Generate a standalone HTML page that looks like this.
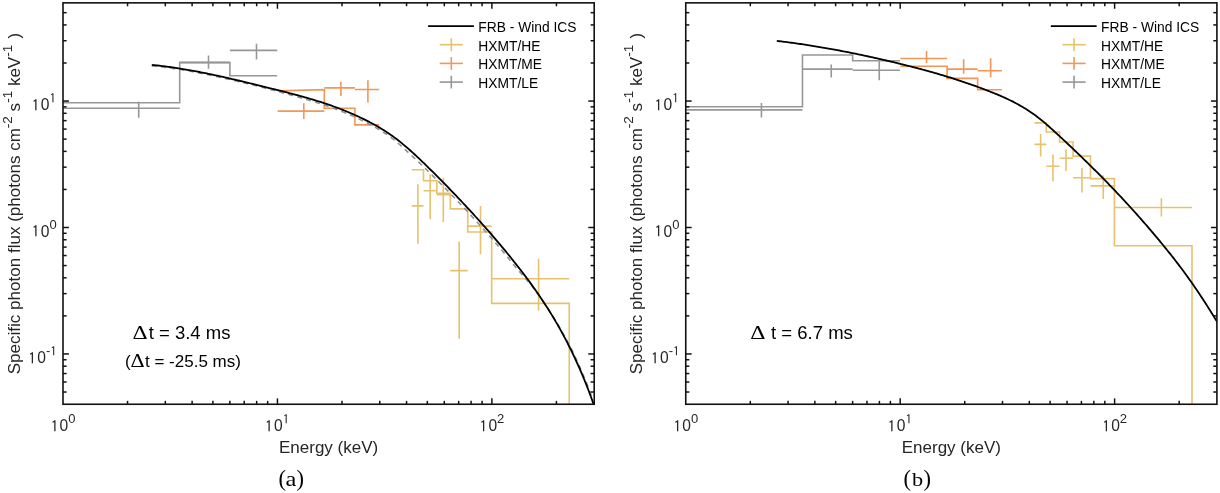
<!DOCTYPE html>
<html><head><meta charset="utf-8"><title>HXMT spectra</title>
<style>html,body{margin:0;padding:0;background:#fff;}svg{display:block;}</style></head>
<body><svg width="1220" height="493" viewBox="0 0 1220 493">
<rect width="1220" height="493" fill="#fff"/>
<clipPath id="clipL"><rect x="63.0" y="2.85" width="531.2" height="401.4"/></clipPath>
<g clip-path="url(#clipL)">
<polyline points="61.00,102.80 179.70,102.80 179.70,62.60 229.90,62.60 229.90,75.80 277.20,75.80" fill="none" stroke="#979797" stroke-width="1.6" stroke-linejoin="miter" />
<line x1="61.00" y1="108.30" x2="179.70" y2="108.30" stroke="#979797" stroke-width="1.6"/>
<line x1="138.70" y1="101.80" x2="138.70" y2="117.70" stroke="#979797" stroke-width="1.6"/>
<line x1="179.70" y1="62.40" x2="229.90" y2="62.40" stroke="#979797" stroke-width="1.6"/>
<line x1="208.50" y1="55.60" x2="208.50" y2="68.70" stroke="#979797" stroke-width="1.6"/>
<line x1="229.90" y1="50.40" x2="277.20" y2="50.40" stroke="#979797" stroke-width="1.6"/>
<line x1="256.50" y1="43.80" x2="256.50" y2="59.40" stroke="#979797" stroke-width="1.6"/>
<polyline points="277.70,90.90 324.30,89.60 324.30,108.30 354.90,108.30 354.90,124.90 379.20,124.90" fill="none" stroke="#F29659" stroke-width="1.6" stroke-linejoin="miter" />
<line x1="277.70" y1="111.10" x2="324.30" y2="111.10" stroke="#F29659" stroke-width="1.6"/>
<line x1="303.80" y1="103.30" x2="303.80" y2="119.00" stroke="#F29659" stroke-width="1.6"/>
<line x1="324.30" y1="87.90" x2="354.90" y2="87.90" stroke="#F29659" stroke-width="1.6"/>
<line x1="340.90" y1="81.70" x2="340.90" y2="96.00" stroke="#F29659" stroke-width="1.6"/>
<line x1="354.90" y1="89.50" x2="379.20" y2="89.50" stroke="#F29659" stroke-width="1.6"/>
<line x1="367.90" y1="80.20" x2="367.90" y2="102.50" stroke="#F29659" stroke-width="1.6"/>
<polyline points="411.80,169.80 423.50,169.80 423.50,180.80 436.80,180.80 436.80,193.30 450.30,193.30 450.30,208.90 467.75,208.90 467.75,232.00 491.65,232.00 491.65,303.40 569.25,303.40 569.25,409.25" fill="none" stroke="#E7C26C" stroke-width="1.6" stroke-linejoin="miter" />
<line x1="411.80" y1="205.90" x2="423.50" y2="205.90" stroke="#E7C26C" stroke-width="1.6"/>
<line x1="417.90" y1="184.30" x2="417.90" y2="243.70" stroke="#E7C26C" stroke-width="1.6"/>
<line x1="423.50" y1="190.70" x2="436.80" y2="190.70" stroke="#E7C26C" stroke-width="1.6"/>
<line x1="430.20" y1="174.20" x2="430.20" y2="219.30" stroke="#E7C26C" stroke-width="1.6"/>
<line x1="436.80" y1="194.60" x2="450.30" y2="194.60" stroke="#E7C26C" stroke-width="1.6"/>
<line x1="443.30" y1="177.70" x2="443.30" y2="221.90" stroke="#E7C26C" stroke-width="1.6"/>
<line x1="450.30" y1="270.60" x2="467.75" y2="270.60" stroke="#E7C26C" stroke-width="1.6"/>
<line x1="459.20" y1="241.40" x2="459.20" y2="338.70" stroke="#E7C26C" stroke-width="1.6"/>
<line x1="467.75" y1="226.10" x2="491.65" y2="226.10" stroke="#E7C26C" stroke-width="1.6"/>
<line x1="480.50" y1="206.10" x2="480.50" y2="254.30" stroke="#E7C26C" stroke-width="1.6"/>
<line x1="491.65" y1="278.70" x2="569.25" y2="278.70" stroke="#E7C26C" stroke-width="1.6"/>
<line x1="538.60" y1="258.70" x2="538.60" y2="310.50" stroke="#E7C26C" stroke-width="1.6"/>
<polyline points="151.80,65.89 153.29,66.04 154.77,66.19 156.26,66.35 157.74,66.52 159.23,66.69 160.71,66.86 162.20,67.04 163.68,67.23 165.17,67.42 166.66,67.61 168.14,67.81 169.63,68.02 171.11,68.23 172.60,68.44 174.08,68.66 175.57,68.89 177.06,69.11 178.54,69.35 180.03,69.58 181.51,69.82 183.00,70.07 184.48,70.32 185.97,70.57 187.45,70.83 188.94,71.09 190.43,71.35 191.91,71.62 193.40,71.89 194.88,72.17 196.37,72.45 197.85,72.73 199.34,73.02 200.83,73.31 202.31,73.60 203.80,73.90 205.28,74.20 206.77,74.50 208.25,74.81 209.74,75.11 211.22,75.42 212.71,75.74 214.20,76.06 215.68,76.38 217.17,76.70 218.65,77.02 220.14,77.35 221.62,77.68 223.11,78.01 224.60,78.34 226.08,78.68 227.57,79.02 229.05,79.36 230.54,79.70 232.02,80.05 233.51,80.39 234.99,80.74 236.48,81.09 237.97,81.44 239.45,81.79 240.94,82.15 242.42,82.50 243.91,82.86 245.39,83.22 246.88,83.58 248.37,83.94 249.85,84.30 251.34,84.66 252.82,85.03 254.31,85.39 255.79,85.76 257.28,86.12 258.76,86.49 260.25,86.86 261.74,87.25 263.22,87.64 264.71,88.04 266.19,88.43 267.68,88.82 269.16,89.21 270.65,89.61 272.14,90.00 273.62,90.39 275.11,90.79 276.59,91.18 278.08,91.58 279.56,91.98 281.05,92.37 282.53,92.77 284.02,93.17 285.51,93.58 286.99,93.98 288.48,94.39 289.96,94.80 291.45,95.21 292.93,95.62 294.42,96.04 295.91,96.46 297.39,96.88 298.88,97.31 300.36,97.74 301.85,98.16 303.33,98.58 304.82,99.01 306.30,99.44 307.79,99.88 309.28,100.32 310.76,100.77 312.25,101.22 313.73,101.67 315.22,102.13 316.70,102.60 318.19,103.07 319.67,103.55 321.16,104.04 322.65,104.53 324.13,105.02 325.62,105.53 327.10,106.04 328.59,106.56 330.07,107.08 331.56,107.61 333.05,108.15 334.53,108.70 336.02,109.26 337.50,109.82 338.99,110.39 340.47,110.97 341.96,111.56 343.44,112.15 344.93,112.76 346.42,113.37 347.90,114.00 349.39,114.63 350.87,115.28 352.36,115.93 353.84,116.59 355.33,117.27 356.82,117.95 358.30,118.64 359.79,119.35 361.27,120.06 362.76,120.79 364.24,121.53 365.73,122.28 367.21,123.04 368.70,123.81 370.19,124.60 371.67,125.39 373.16,126.21 374.64,127.03 376.13,127.87 377.61,128.73 379.10,129.60 380.59,130.49 382.07,131.40 383.56,132.33 385.04,133.28 386.53,134.25 388.01,135.24 389.50,136.25 390.98,137.37 392.47,138.54 393.96,139.75 395.44,140.97 396.93,142.22 398.41,143.50 399.90,144.80 401.38,146.12 402.87,147.47 404.36,148.84 405.84,150.22 407.33,151.63 408.81,153.05 410.30,154.47 411.78,155.80 413.27,157.14 414.75,158.50 416.24,159.88 417.73,161.26 419.21,162.66 420.70,164.07 422.18,165.49 423.67,166.92 425.15,168.36 426.64,169.81 428.13,171.26 429.61,172.72 431.10,174.18 432.58,175.65 434.07,177.12 435.55,178.60 437.04,180.09 438.52,181.58 440.01,183.07 441.50,184.57 442.98,186.07 444.47,187.58 445.95,189.09 447.44,190.61 448.92,192.14 450.41,193.67 451.89,195.20 453.38,196.74 454.87,198.29 456.35,199.84 457.84,201.40 459.32,202.96 460.81,204.53 462.29,206.10 463.78,207.68 465.27,209.27 466.75,210.86 468.24,212.46 469.72,214.06 471.21,215.67 472.69,217.29 474.18,218.91 475.66,220.54 477.15,222.17 478.64,223.81 480.12,225.46 481.61,227.11 483.09,228.76 484.58,230.43 486.06,232.10 487.55,233.77 489.04,235.46 490.52,237.15 492.01,238.85 493.49,240.56 494.98,242.28 496.46,244.01 497.95,245.75 499.43,247.50 500.92,249.25 502.41,251.02 503.89,252.80 505.38,254.58 506.86,256.38 508.35,258.19 509.83,260.01 511.32,261.84 512.81,263.69 514.29,265.54 515.78,267.32 517.26,269.01 518.75,270.73 520.23,272.45 521.72,274.19 523.20,275.89 524.69,277.59 526.18,279.31 527.66,281.05 529.15,282.81 530.63,284.58 532.12,286.39 533.60,288.34 535.09,290.32 536.58,292.33 538.06,294.35 539.55,296.41 541.03,298.49 542.52,300.59 544.00,302.73 545.49,304.90 546.97,307.12 548.46,309.36 549.95,311.64 551.43,313.96 552.92,316.31 554.40,318.69 555.89,321.12 557.37,323.58 558.86,326.09 560.35,328.63 561.83,331.22 563.32,333.85 564.80,336.52 566.29,339.25 567.77,342.03 569.26,344.86 570.74,347.75 572.23,350.70 573.72,353.71 575.20,356.78 576.69,359.97 578.17,363.22 579.66,366.55 581.14,369.94 582.63,373.42 584.12,376.96 585.60,380.59 587.09,384.30 588.57,388.09 590.06,391.98 591.54,395.99" fill="none" stroke="#8e8e8e" stroke-width="1.5" stroke-linejoin="miter" stroke-dasharray="5 4.3" stroke-linecap="butt"/>
<polyline points="151.80,64.89 153.29,65.04 154.77,65.19 156.26,65.35 157.74,65.51 159.23,65.68 160.71,65.86 162.20,66.04 163.68,66.22 165.17,66.41 166.66,66.61 168.14,66.81 169.63,67.01 171.11,67.22 172.60,67.43 174.08,67.65 175.57,67.87 177.06,68.10 178.54,68.33 180.03,68.57 181.51,68.81 183.00,69.05 184.48,69.30 185.97,69.55 187.45,69.81 188.94,70.07 190.43,70.34 191.91,70.60 193.40,70.87 194.88,71.15 196.37,71.43 197.85,71.71 199.34,72.00 200.83,72.29 202.31,72.58 203.80,72.87 205.28,73.17 206.77,73.47 208.25,73.78 209.74,74.09 211.22,74.40 212.71,74.71 214.20,75.03 215.68,75.35 217.17,75.67 218.65,75.99 220.14,76.32 221.62,76.65 223.11,76.98 224.60,77.31 226.08,77.65 227.57,77.98 229.05,78.32 230.54,78.66 232.02,79.01 233.51,79.35 234.99,79.70 236.48,80.05 237.97,80.40 239.45,80.75 240.94,81.11 242.42,81.46 243.91,81.82 245.39,82.17 246.88,82.53 248.37,82.89 249.85,83.25 251.34,83.62 252.82,83.98 254.31,84.34 255.79,84.71 257.28,85.07 258.76,85.44 260.25,85.81 261.74,86.17 263.22,86.54 264.71,86.91 266.19,87.28 267.68,87.65 269.16,88.02 270.65,88.38 272.14,88.75 273.62,89.12 275.11,89.49 276.59,89.86 278.08,90.24 279.56,90.61 281.05,90.98 282.53,91.36 284.02,91.73 285.51,92.11 286.99,92.49 288.48,92.88 289.96,93.26 291.45,93.65 292.93,94.04 294.42,94.43 295.91,94.83 297.39,95.23 298.88,95.63 300.36,96.04 301.85,96.45 303.33,96.86 304.82,97.28 306.30,97.70 307.79,98.13 309.28,98.56 310.76,98.99 312.25,99.43 313.73,99.88 315.22,100.33 316.70,100.79 318.19,101.25 319.67,101.72 321.16,102.20 322.65,102.68 324.13,103.16 325.62,103.66 327.10,104.16 328.59,104.67 330.07,105.18 331.56,105.70 333.05,106.23 334.53,106.77 336.02,107.32 337.50,107.87 338.99,108.43 340.47,109.00 341.96,109.58 343.44,110.16 344.93,110.76 346.42,111.37 347.90,111.98 349.39,112.60 350.87,113.24 352.36,113.88 353.84,114.53 355.33,115.20 356.82,115.87 358.30,116.55 359.79,117.25 361.27,117.95 362.76,118.67 364.24,119.40 365.73,120.14 367.21,120.89 368.70,121.65 370.19,122.43 371.67,123.22 373.16,124.02 374.64,124.83 376.13,125.66 377.61,126.51 379.10,127.38 380.59,128.26 382.07,129.16 383.56,130.08 385.04,131.01 386.53,131.97 388.01,132.95 389.50,133.96 390.98,134.98 392.47,136.03 393.96,137.11 395.44,138.21 396.93,139.33 398.41,140.48 399.90,141.66 401.38,142.86 402.87,144.08 404.36,145.32 405.84,146.58 407.33,147.86 408.81,149.16 410.30,150.47 411.78,151.80 413.27,153.15 414.75,154.52 416.24,155.89 417.73,157.29 419.21,158.69 420.70,160.10 422.18,161.53 423.67,162.96 425.15,164.40 426.64,165.85 428.13,167.31 429.61,168.77 431.10,170.24 432.58,171.72 434.07,173.19 435.55,174.68 437.04,176.16 438.52,177.66 440.01,179.15 441.50,180.66 442.98,182.16 444.47,183.68 445.95,185.20 447.44,186.72 448.92,188.25 450.41,189.78 451.89,191.32 453.38,192.87 454.87,194.42 456.35,195.97 457.84,197.54 459.32,199.10 460.81,200.68 462.29,202.25 463.78,203.84 465.27,205.43 466.75,207.02 468.24,208.63 469.72,210.23 471.21,211.85 472.69,213.47 474.18,215.09 475.66,216.73 477.15,218.36 478.64,220.01 480.12,221.66 481.61,223.32 483.09,224.98 484.58,226.65 486.06,228.33 487.55,230.02 489.04,231.71 490.52,233.41 492.01,235.12 493.49,236.84 494.98,238.57 496.46,240.31 497.95,242.05 499.43,243.81 500.92,245.57 502.41,247.35 503.89,249.13 505.38,250.93 506.86,252.74 508.35,254.55 509.83,256.38 511.32,258.22 512.81,260.08 514.29,261.94 515.78,263.82 517.26,265.71 518.75,267.61 520.23,269.52 521.72,271.45 523.20,273.39 524.69,275.35 526.18,277.32 527.66,279.31 529.15,281.32 530.63,283.35 532.12,285.40 533.60,287.47 535.09,289.56 536.58,291.68 538.06,293.82 539.55,295.99 541.03,298.18 542.52,300.40 544.00,302.65 545.49,304.94 546.97,307.25 548.46,309.59 549.95,311.97 551.43,314.39 552.92,316.84 554.40,319.32 555.89,321.84 557.37,324.41 558.86,327.01 560.35,329.65 561.83,332.34 563.32,335.07 564.80,337.85 566.29,340.67 567.77,343.55 569.26,346.48 570.74,349.47 572.23,352.51 573.72,355.62 575.20,358.79 576.69,362.03 578.17,365.33 579.66,368.70 581.14,372.15 582.63,375.67 584.12,379.27 585.60,382.94 587.09,386.70 588.57,390.55 590.06,394.48 591.54,398.49 593.03,402.60 594.51,406.81 596.00,411.10" fill="none" stroke="#000" stroke-width="1.8" stroke-linejoin="miter" />
</g>
<rect x="63.0" y="2.85" width="531.2" height="401.4" fill="none" stroke="#111111" stroke-width="1.6"/>
<line x1="127.55" y1="404.25" x2="127.55" y2="400.85" stroke="#111111" stroke-width="1.5"/>
<line x1="127.55" y1="2.85" x2="127.55" y2="6.25" stroke="#111111" stroke-width="1.5"/>
<line x1="165.31" y1="404.25" x2="165.31" y2="400.85" stroke="#111111" stroke-width="1.5"/>
<line x1="165.31" y1="2.85" x2="165.31" y2="6.25" stroke="#111111" stroke-width="1.5"/>
<line x1="192.11" y1="404.25" x2="192.11" y2="400.85" stroke="#111111" stroke-width="1.5"/>
<line x1="192.11" y1="2.85" x2="192.11" y2="6.25" stroke="#111111" stroke-width="1.5"/>
<line x1="212.89" y1="404.25" x2="212.89" y2="400.85" stroke="#111111" stroke-width="1.5"/>
<line x1="212.89" y1="2.85" x2="212.89" y2="6.25" stroke="#111111" stroke-width="1.5"/>
<line x1="229.87" y1="404.25" x2="229.87" y2="400.85" stroke="#111111" stroke-width="1.5"/>
<line x1="229.87" y1="2.85" x2="229.87" y2="6.25" stroke="#111111" stroke-width="1.5"/>
<line x1="244.22" y1="404.25" x2="244.22" y2="400.85" stroke="#111111" stroke-width="1.5"/>
<line x1="244.22" y1="2.85" x2="244.22" y2="6.25" stroke="#111111" stroke-width="1.5"/>
<line x1="256.66" y1="404.25" x2="256.66" y2="400.85" stroke="#111111" stroke-width="1.5"/>
<line x1="256.66" y1="2.85" x2="256.66" y2="6.25" stroke="#111111" stroke-width="1.5"/>
<line x1="267.63" y1="404.25" x2="267.63" y2="400.85" stroke="#111111" stroke-width="1.5"/>
<line x1="267.63" y1="2.85" x2="267.63" y2="6.25" stroke="#111111" stroke-width="1.5"/>
<line x1="277.44" y1="404.25" x2="277.44" y2="398.35" stroke="#111111" stroke-width="1.5"/>
<line x1="277.44" y1="2.85" x2="277.44" y2="8.75" stroke="#111111" stroke-width="1.5"/>
<line x1="341.99" y1="404.25" x2="341.99" y2="400.85" stroke="#111111" stroke-width="1.5"/>
<line x1="341.99" y1="2.85" x2="341.99" y2="6.25" stroke="#111111" stroke-width="1.5"/>
<line x1="379.75" y1="404.25" x2="379.75" y2="400.85" stroke="#111111" stroke-width="1.5"/>
<line x1="379.75" y1="2.85" x2="379.75" y2="6.25" stroke="#111111" stroke-width="1.5"/>
<line x1="406.55" y1="404.25" x2="406.55" y2="400.85" stroke="#111111" stroke-width="1.5"/>
<line x1="406.55" y1="2.85" x2="406.55" y2="6.25" stroke="#111111" stroke-width="1.5"/>
<line x1="427.33" y1="404.25" x2="427.33" y2="400.85" stroke="#111111" stroke-width="1.5"/>
<line x1="427.33" y1="2.85" x2="427.33" y2="6.25" stroke="#111111" stroke-width="1.5"/>
<line x1="444.31" y1="404.25" x2="444.31" y2="400.85" stroke="#111111" stroke-width="1.5"/>
<line x1="444.31" y1="2.85" x2="444.31" y2="6.25" stroke="#111111" stroke-width="1.5"/>
<line x1="458.66" y1="404.25" x2="458.66" y2="400.85" stroke="#111111" stroke-width="1.5"/>
<line x1="458.66" y1="2.85" x2="458.66" y2="6.25" stroke="#111111" stroke-width="1.5"/>
<line x1="471.10" y1="404.25" x2="471.10" y2="400.85" stroke="#111111" stroke-width="1.5"/>
<line x1="471.10" y1="2.85" x2="471.10" y2="6.25" stroke="#111111" stroke-width="1.5"/>
<line x1="482.07" y1="404.25" x2="482.07" y2="400.85" stroke="#111111" stroke-width="1.5"/>
<line x1="482.07" y1="2.85" x2="482.07" y2="6.25" stroke="#111111" stroke-width="1.5"/>
<line x1="491.88" y1="404.25" x2="491.88" y2="398.35" stroke="#111111" stroke-width="1.5"/>
<line x1="491.88" y1="2.85" x2="491.88" y2="8.75" stroke="#111111" stroke-width="1.5"/>
<line x1="556.43" y1="404.25" x2="556.43" y2="400.85" stroke="#111111" stroke-width="1.5"/>
<line x1="556.43" y1="2.85" x2="556.43" y2="6.25" stroke="#111111" stroke-width="1.5"/>
<line x1="63.00" y1="392.02" x2="66.60" y2="392.02" stroke="#111111" stroke-width="1.5"/>
<line x1="594.20" y1="392.02" x2="590.60" y2="392.02" stroke="#111111" stroke-width="1.5"/>
<line x1="63.00" y1="382.00" x2="66.60" y2="382.00" stroke="#111111" stroke-width="1.5"/>
<line x1="594.20" y1="382.00" x2="590.60" y2="382.00" stroke="#111111" stroke-width="1.5"/>
<line x1="63.00" y1="373.54" x2="66.60" y2="373.54" stroke="#111111" stroke-width="1.5"/>
<line x1="594.20" y1="373.54" x2="590.60" y2="373.54" stroke="#111111" stroke-width="1.5"/>
<line x1="63.00" y1="366.20" x2="66.60" y2="366.20" stroke="#111111" stroke-width="1.5"/>
<line x1="594.20" y1="366.20" x2="590.60" y2="366.20" stroke="#111111" stroke-width="1.5"/>
<line x1="63.00" y1="359.74" x2="66.60" y2="359.74" stroke="#111111" stroke-width="1.5"/>
<line x1="594.20" y1="359.74" x2="590.60" y2="359.74" stroke="#111111" stroke-width="1.5"/>
<line x1="63.00" y1="353.95" x2="68.90" y2="353.95" stroke="#111111" stroke-width="1.5"/>
<line x1="594.20" y1="353.95" x2="588.30" y2="353.95" stroke="#111111" stroke-width="1.5"/>
<line x1="63.00" y1="315.88" x2="66.60" y2="315.88" stroke="#111111" stroke-width="1.5"/>
<line x1="594.20" y1="315.88" x2="590.60" y2="315.88" stroke="#111111" stroke-width="1.5"/>
<line x1="63.00" y1="293.62" x2="66.60" y2="293.62" stroke="#111111" stroke-width="1.5"/>
<line x1="594.20" y1="293.62" x2="590.60" y2="293.62" stroke="#111111" stroke-width="1.5"/>
<line x1="63.00" y1="277.82" x2="66.60" y2="277.82" stroke="#111111" stroke-width="1.5"/>
<line x1="594.20" y1="277.82" x2="590.60" y2="277.82" stroke="#111111" stroke-width="1.5"/>
<line x1="63.00" y1="265.57" x2="66.60" y2="265.57" stroke="#111111" stroke-width="1.5"/>
<line x1="594.20" y1="265.57" x2="590.60" y2="265.57" stroke="#111111" stroke-width="1.5"/>
<line x1="63.00" y1="255.55" x2="66.60" y2="255.55" stroke="#111111" stroke-width="1.5"/>
<line x1="594.20" y1="255.55" x2="590.60" y2="255.55" stroke="#111111" stroke-width="1.5"/>
<line x1="63.00" y1="247.09" x2="66.60" y2="247.09" stroke="#111111" stroke-width="1.5"/>
<line x1="594.20" y1="247.09" x2="590.60" y2="247.09" stroke="#111111" stroke-width="1.5"/>
<line x1="63.00" y1="239.75" x2="66.60" y2="239.75" stroke="#111111" stroke-width="1.5"/>
<line x1="594.20" y1="239.75" x2="590.60" y2="239.75" stroke="#111111" stroke-width="1.5"/>
<line x1="63.00" y1="233.29" x2="66.60" y2="233.29" stroke="#111111" stroke-width="1.5"/>
<line x1="594.20" y1="233.29" x2="590.60" y2="233.29" stroke="#111111" stroke-width="1.5"/>
<line x1="63.00" y1="227.50" x2="68.90" y2="227.50" stroke="#111111" stroke-width="1.5"/>
<line x1="594.20" y1="227.50" x2="588.30" y2="227.50" stroke="#111111" stroke-width="1.5"/>
<line x1="63.00" y1="189.43" x2="66.60" y2="189.43" stroke="#111111" stroke-width="1.5"/>
<line x1="594.20" y1="189.43" x2="590.60" y2="189.43" stroke="#111111" stroke-width="1.5"/>
<line x1="63.00" y1="167.17" x2="66.60" y2="167.17" stroke="#111111" stroke-width="1.5"/>
<line x1="594.20" y1="167.17" x2="590.60" y2="167.17" stroke="#111111" stroke-width="1.5"/>
<line x1="63.00" y1="151.37" x2="66.60" y2="151.37" stroke="#111111" stroke-width="1.5"/>
<line x1="594.20" y1="151.37" x2="590.60" y2="151.37" stroke="#111111" stroke-width="1.5"/>
<line x1="63.00" y1="139.12" x2="66.60" y2="139.12" stroke="#111111" stroke-width="1.5"/>
<line x1="594.20" y1="139.12" x2="590.60" y2="139.12" stroke="#111111" stroke-width="1.5"/>
<line x1="63.00" y1="129.10" x2="66.60" y2="129.10" stroke="#111111" stroke-width="1.5"/>
<line x1="594.20" y1="129.10" x2="590.60" y2="129.10" stroke="#111111" stroke-width="1.5"/>
<line x1="63.00" y1="120.64" x2="66.60" y2="120.64" stroke="#111111" stroke-width="1.5"/>
<line x1="594.20" y1="120.64" x2="590.60" y2="120.64" stroke="#111111" stroke-width="1.5"/>
<line x1="63.00" y1="113.30" x2="66.60" y2="113.30" stroke="#111111" stroke-width="1.5"/>
<line x1="594.20" y1="113.30" x2="590.60" y2="113.30" stroke="#111111" stroke-width="1.5"/>
<line x1="63.00" y1="106.84" x2="66.60" y2="106.84" stroke="#111111" stroke-width="1.5"/>
<line x1="594.20" y1="106.84" x2="590.60" y2="106.84" stroke="#111111" stroke-width="1.5"/>
<line x1="63.00" y1="101.05" x2="68.90" y2="101.05" stroke="#111111" stroke-width="1.5"/>
<line x1="594.20" y1="101.05" x2="588.30" y2="101.05" stroke="#111111" stroke-width="1.5"/>
<line x1="63.00" y1="62.98" x2="66.60" y2="62.98" stroke="#111111" stroke-width="1.5"/>
<line x1="594.20" y1="62.98" x2="590.60" y2="62.98" stroke="#111111" stroke-width="1.5"/>
<line x1="63.00" y1="40.72" x2="66.60" y2="40.72" stroke="#111111" stroke-width="1.5"/>
<line x1="594.20" y1="40.72" x2="590.60" y2="40.72" stroke="#111111" stroke-width="1.5"/>
<line x1="63.00" y1="24.92" x2="66.60" y2="24.92" stroke="#111111" stroke-width="1.5"/>
<line x1="594.20" y1="24.92" x2="590.60" y2="24.92" stroke="#111111" stroke-width="1.5"/>
<line x1="63.00" y1="12.67" x2="66.60" y2="12.67" stroke="#111111" stroke-width="1.5"/>
<line x1="594.20" y1="12.67" x2="590.60" y2="12.67" stroke="#111111" stroke-width="1.5"/>
<text font-family="Liberation Sans, sans-serif" font-size="15.6" fill="#262626"><tspan x="50.66" y="431.78" font-family="IPAGothic, Liberation Sans, sans-serif">1</tspan><tspan x="59.53" y="431.00">0</tspan><tspan x="68.21" y="423.40" font-size="13.0">0</tspan></text>
<text font-family="Liberation Sans, sans-serif" font-size="15.6" fill="#262626"><tspan x="265.10" y="431.78" font-family="IPAGothic, Liberation Sans, sans-serif">1</tspan><tspan x="273.97" y="431.00">0</tspan><tspan x="282.65" y="424.06" font-size="13.0" font-family="IPAGothic, Liberation Sans, sans-serif">1</tspan></text>
<text font-family="Liberation Sans, sans-serif" font-size="15.6" fill="#262626"><tspan x="479.54" y="431.78" font-family="IPAGothic, Liberation Sans, sans-serif">1</tspan><tspan x="488.41" y="431.00">0</tspan><tspan x="497.09" y="423.40" font-size="13.0">2</tspan></text>
<text font-family="Liberation Sans, sans-serif" font-size="15.6" fill="#262626"><tspan x="31.66" y="110.83" font-family="IPAGothic, Liberation Sans, sans-serif">1</tspan><tspan x="40.83" y="110.05">0</tspan><tspan x="49.51" y="102.91" font-size="13.0" font-family="IPAGothic, Liberation Sans, sans-serif">1</tspan></text>
<text font-family="Liberation Sans, sans-serif" font-size="15.6" fill="#262626"><tspan x="31.66" y="237.28" font-family="IPAGothic, Liberation Sans, sans-serif">1</tspan><tspan x="40.83" y="236.50">0</tspan><tspan x="49.51" y="228.70" font-size="13.0">0</tspan></text>
<text font-family="Liberation Sans, sans-serif" font-size="15.6" fill="#262626"><tspan x="28.16" y="363.73" font-family="IPAGothic, Liberation Sans, sans-serif">1</tspan><tspan x="37.33" y="362.95">0</tspan><tspan x="46.01" y="355.15" font-size="13.0">-</tspan><tspan x="50.34" y="355.81" font-size="13.0" font-family="IPAGothic, Liberation Sans, sans-serif">1</tspan></text>
<line x1="428.10" y1="26.10" x2="473.90" y2="26.10" stroke="#000" stroke-width="1.8"/>
<line x1="439.70" y1="44.70" x2="462.90" y2="44.70" stroke="#E7C26C" stroke-width="1.6"/>
<line x1="451.30" y1="38.30" x2="451.30" y2="51.10" stroke="#E7C26C" stroke-width="1.6"/>
<text x="478.30" y="50.60" font-family="Liberation Sans, sans-serif" font-size="13.8" fill="#000">HXMT/HE</text>
<line x1="439.70" y1="63.40" x2="462.90" y2="63.40" stroke="#F29659" stroke-width="1.6"/>
<line x1="451.30" y1="57.00" x2="451.30" y2="69.80" stroke="#F29659" stroke-width="1.6"/>
<text x="478.30" y="69.30" font-family="Liberation Sans, sans-serif" font-size="13.8" fill="#000">HXMT/ME</text>
<line x1="439.70" y1="82.10" x2="462.90" y2="82.10" stroke="#979797" stroke-width="1.6"/>
<line x1="451.30" y1="75.70" x2="451.30" y2="88.50" stroke="#979797" stroke-width="1.6"/>
<text x="478.30" y="88.00" font-family="Liberation Sans, sans-serif" font-size="13.8" fill="#000">HXMT/LE</text>
<text x="478.30" y="32.3" font-family="Liberation Sans, sans-serif" font-size="13.8" fill="#000">FRB - Wind ICS</text>
<text x="328.60" y="453.1" text-anchor="middle" font-family="Liberation Sans, sans-serif" font-size="17" fill="#262626">Energy (keV)</text>
<text transform="translate(20.00,374.27) rotate(-90)" font-family="Liberation Sans, sans-serif" font-size="17.05" fill="#262626">Specific photon flux (photons cm<tspan dy="-8.3" font-size="13.5">-2</tspan><tspan dy="8.3"> s</tspan><tspan dy="-8.3" font-size="13.5">-1</tspan><tspan dy="8.3"> keV</tspan><tspan dy="-8.3" font-size="13.5">-1</tspan><tspan dy="8.3"> </tspan><tspan dx="1.6">)</tspan></text>
<clipPath id="clipR"><rect x="685.75" y="2.85" width="531.1500000000001" height="401.4"/></clipPath>
<g clip-path="url(#clipR)">
<polyline points="683.75,106.80 802.45,106.80 802.45,55.00 852.65,55.00 852.65,60.80 899.95,60.80" fill="none" stroke="#979797" stroke-width="1.6" stroke-linejoin="miter" />
<line x1="683.75" y1="109.90" x2="802.45" y2="109.90" stroke="#979797" stroke-width="1.6"/>
<line x1="761.45" y1="103.00" x2="761.45" y2="117.50" stroke="#979797" stroke-width="1.6"/>
<line x1="802.45" y1="69.10" x2="852.65" y2="69.10" stroke="#979797" stroke-width="1.6"/>
<line x1="831.25" y1="64.60" x2="831.25" y2="77.60" stroke="#979797" stroke-width="1.6"/>
<line x1="852.65" y1="70.20" x2="899.95" y2="70.20" stroke="#979797" stroke-width="1.6"/>
<line x1="879.25" y1="61.30" x2="879.25" y2="80.20" stroke="#979797" stroke-width="1.6"/>
<polyline points="900.45,66.30 947.05,66.30 947.05,78.40 977.65,78.40 977.65,89.70 1001.95,89.70" fill="none" stroke="#F29659" stroke-width="1.6" stroke-linejoin="miter" />
<line x1="900.45" y1="58.50" x2="947.05" y2="58.50" stroke="#F29659" stroke-width="1.6"/>
<line x1="926.55" y1="51.10" x2="926.55" y2="63.00" stroke="#F29659" stroke-width="1.6"/>
<line x1="947.05" y1="69.10" x2="977.65" y2="69.10" stroke="#F29659" stroke-width="1.6"/>
<line x1="963.65" y1="59.20" x2="963.65" y2="73.70" stroke="#F29659" stroke-width="1.6"/>
<line x1="977.65" y1="70.80" x2="1001.95" y2="70.80" stroke="#F29659" stroke-width="1.6"/>
<line x1="990.65" y1="58.20" x2="990.65" y2="77.20" stroke="#F29659" stroke-width="1.6"/>
<polyline points="1034.55,122.90 1046.25,122.90 1046.25,132.00 1059.55,132.00 1059.55,142.00 1073.05,142.00 1073.05,156.10 1090.50,156.10 1090.50,178.60 1114.40,178.60 1114.40,245.70 1192.00,245.70 1192.00,409.25" fill="none" stroke="#E7C26C" stroke-width="1.6" stroke-linejoin="miter" />
<line x1="1034.55" y1="144.40" x2="1046.25" y2="144.40" stroke="#E7C26C" stroke-width="1.6"/>
<line x1="1040.65" y1="134.10" x2="1040.65" y2="156.40" stroke="#E7C26C" stroke-width="1.6"/>
<line x1="1046.25" y1="166.20" x2="1059.55" y2="166.20" stroke="#E7C26C" stroke-width="1.6"/>
<line x1="1052.95" y1="154.60" x2="1052.95" y2="181.40" stroke="#E7C26C" stroke-width="1.6"/>
<line x1="1059.55" y1="158.20" x2="1073.05" y2="158.20" stroke="#E7C26C" stroke-width="1.6"/>
<line x1="1066.05" y1="149.20" x2="1066.05" y2="171.00" stroke="#E7C26C" stroke-width="1.6"/>
<line x1="1073.05" y1="177.70" x2="1090.50" y2="177.70" stroke="#E7C26C" stroke-width="1.6"/>
<line x1="1081.95" y1="167.70" x2="1081.95" y2="192.60" stroke="#E7C26C" stroke-width="1.6"/>
<line x1="1090.50" y1="185.90" x2="1114.40" y2="185.90" stroke="#E7C26C" stroke-width="1.6"/>
<line x1="1103.25" y1="175.20" x2="1103.25" y2="198.90" stroke="#E7C26C" stroke-width="1.6"/>
<line x1="1114.40" y1="207.50" x2="1192.00" y2="207.50" stroke="#E7C26C" stroke-width="1.6"/>
<line x1="1161.35" y1="198.30" x2="1161.35" y2="216.50" stroke="#E7C26C" stroke-width="1.6"/>
<polyline points="776.80,40.90 778.28,41.07 779.76,41.25 781.24,41.42 782.72,41.61 784.19,41.79 785.67,41.98 787.15,42.17 788.63,42.36 790.11,42.56 791.59,42.76 793.07,42.96 794.55,43.16 796.03,43.37 797.51,43.58 798.98,43.79 800.46,44.00 801.94,44.22 803.42,44.44 804.90,44.66 806.38,44.89 807.86,45.12 809.34,45.35 810.82,45.58 812.29,45.82 813.77,46.05 815.25,46.29 816.73,46.54 818.21,46.78 819.69,47.03 821.17,47.28 822.65,47.53 824.13,47.79 825.60,48.05 827.08,48.31 828.56,48.57 830.04,48.83 831.52,49.10 833.00,49.37 834.48,49.64 835.96,49.92 837.44,50.19 838.92,50.47 840.39,50.75 841.87,51.04 843.35,51.32 844.83,51.61 846.31,51.90 847.79,52.19 849.27,52.48 850.75,52.78 852.23,53.08 853.70,53.38 855.18,53.68 856.66,53.99 858.14,54.29 859.62,54.60 861.10,54.91 862.58,55.23 864.06,55.54 865.54,55.86 867.01,56.18 868.49,56.50 869.97,56.82 871.45,57.15 872.93,57.47 874.41,57.80 875.89,58.13 877.37,58.47 878.85,58.80 880.33,59.14 881.80,59.47 883.28,59.81 884.76,60.16 886.24,60.50 887.72,60.84 889.20,61.19 890.68,61.54 892.16,61.89 893.64,62.24 895.11,62.60 896.59,62.95 898.07,63.31 899.55,63.67 901.03,64.03 902.51,64.40 903.99,64.77 905.47,65.13 906.95,65.51 908.42,65.88 909.90,66.25 911.38,66.63 912.86,67.01 914.34,67.40 915.82,67.78 917.30,68.17 918.78,68.56 920.26,68.96 921.74,69.35 923.21,69.75 924.69,70.15 926.17,70.56 927.65,70.97 929.13,71.38 930.61,71.79 932.09,72.21 933.57,72.63 935.05,73.06 936.52,73.48 938.00,73.91 939.48,74.35 940.96,74.78 942.44,75.22 943.92,75.67 945.40,76.12 946.88,76.57 948.36,77.02 949.83,77.48 951.31,77.95 952.79,78.41 954.27,78.88 955.75,79.36 957.23,79.83 958.71,80.32 960.19,80.80 961.67,81.29 963.15,81.79 964.62,82.29 966.10,82.79 967.58,83.30 969.06,83.81 970.54,84.33 972.02,84.85 973.50,85.37 974.98,85.90 976.46,86.44 977.93,86.98 979.41,87.52 980.89,88.07 982.37,88.62 983.85,89.18 985.33,89.75 986.81,90.32 988.29,90.89 989.77,91.47 991.24,92.05 992.72,92.64 994.20,93.24 995.68,93.84 997.16,94.45 998.64,95.07 1000.12,95.70 1001.60,96.34 1003.08,96.99 1004.56,97.66 1006.03,98.33 1007.51,99.02 1008.99,99.72 1010.47,100.44 1011.95,101.17 1013.43,101.92 1014.91,102.68 1016.39,103.47 1017.87,104.27 1019.34,105.09 1020.82,105.93 1022.30,106.79 1023.78,107.67 1025.26,108.58 1026.74,109.50 1028.22,110.46 1029.70,111.43 1031.18,112.43 1032.65,113.46 1034.13,114.51 1035.61,115.59 1037.09,116.70 1038.57,117.84 1040.05,119.00 1041.53,120.20 1043.01,121.42 1044.49,122.67 1045.97,123.94 1047.44,125.23 1048.92,126.54 1050.40,127.86 1051.88,129.19 1053.36,130.53 1054.84,131.88 1056.32,133.23 1057.80,134.59 1059.28,135.96 1060.75,137.33 1062.23,138.70 1063.71,140.08 1065.19,141.46 1066.67,142.84 1068.15,144.23 1069.63,145.63 1071.11,147.02 1072.59,148.43 1074.06,149.83 1075.54,151.24 1077.02,152.65 1078.50,154.07 1079.98,155.50 1081.46,156.92 1082.94,158.36 1084.42,159.79 1085.90,161.23 1087.38,162.68 1088.85,164.13 1090.33,165.59 1091.81,167.05 1093.29,168.52 1094.77,169.99 1096.25,171.47 1097.73,172.95 1099.21,174.44 1100.69,175.93 1102.16,177.43 1103.64,178.94 1105.12,180.45 1106.60,181.97 1108.08,183.49 1109.56,185.02 1111.04,186.56 1112.52,188.10 1114.00,189.65 1115.47,191.20 1116.95,192.76 1118.43,194.33 1119.91,195.90 1121.39,197.48 1122.87,199.07 1124.35,200.67 1125.83,202.27 1127.31,203.88 1128.79,205.49 1130.26,207.11 1131.74,208.74 1133.22,210.38 1134.70,212.02 1136.18,213.68 1137.66,215.34 1139.14,217.00 1140.62,218.68 1142.10,220.36 1143.57,222.05 1145.05,223.75 1146.53,225.45 1148.01,227.17 1149.49,228.89 1150.97,230.62 1152.45,232.36 1153.93,234.11 1155.41,235.86 1156.88,237.63 1158.36,239.40 1159.84,241.18 1161.32,242.97 1162.80,244.77 1164.28,246.58 1165.76,248.40 1167.24,250.23 1168.72,252.07 1170.20,253.93 1171.67,255.80 1173.15,257.68 1174.63,259.57 1176.11,261.48 1177.59,263.41 1179.07,265.35 1180.55,267.30 1182.03,269.28 1183.51,271.27 1184.98,273.28 1186.46,275.31 1187.94,277.35 1189.42,279.42 1190.90,281.51 1192.38,283.62 1193.86,285.75 1195.34,287.90 1196.82,290.08 1198.29,292.27 1199.77,294.48 1201.25,296.72 1202.73,298.97 1204.21,301.25 1205.69,303.54 1207.17,305.86 1208.65,308.19 1210.13,310.54 1211.61,312.91 1213.08,315.30 1214.56,317.71 1216.04,320.13 1217.52,322.57 1219.00,325.04" fill="none" stroke="#000" stroke-width="1.8" stroke-linejoin="miter" />
</g>
<rect x="685.75" y="2.85" width="531.1500000000001" height="401.4" fill="none" stroke="#111111" stroke-width="1.6"/>
<line x1="750.30" y1="404.25" x2="750.30" y2="400.85" stroke="#111111" stroke-width="1.5"/>
<line x1="750.30" y1="2.85" x2="750.30" y2="6.25" stroke="#111111" stroke-width="1.5"/>
<line x1="788.06" y1="404.25" x2="788.06" y2="400.85" stroke="#111111" stroke-width="1.5"/>
<line x1="788.06" y1="2.85" x2="788.06" y2="6.25" stroke="#111111" stroke-width="1.5"/>
<line x1="814.86" y1="404.25" x2="814.86" y2="400.85" stroke="#111111" stroke-width="1.5"/>
<line x1="814.86" y1="2.85" x2="814.86" y2="6.25" stroke="#111111" stroke-width="1.5"/>
<line x1="835.64" y1="404.25" x2="835.64" y2="400.85" stroke="#111111" stroke-width="1.5"/>
<line x1="835.64" y1="2.85" x2="835.64" y2="6.25" stroke="#111111" stroke-width="1.5"/>
<line x1="852.62" y1="404.25" x2="852.62" y2="400.85" stroke="#111111" stroke-width="1.5"/>
<line x1="852.62" y1="2.85" x2="852.62" y2="6.25" stroke="#111111" stroke-width="1.5"/>
<line x1="866.97" y1="404.25" x2="866.97" y2="400.85" stroke="#111111" stroke-width="1.5"/>
<line x1="866.97" y1="2.85" x2="866.97" y2="6.25" stroke="#111111" stroke-width="1.5"/>
<line x1="879.41" y1="404.25" x2="879.41" y2="400.85" stroke="#111111" stroke-width="1.5"/>
<line x1="879.41" y1="2.85" x2="879.41" y2="6.25" stroke="#111111" stroke-width="1.5"/>
<line x1="890.38" y1="404.25" x2="890.38" y2="400.85" stroke="#111111" stroke-width="1.5"/>
<line x1="890.38" y1="2.85" x2="890.38" y2="6.25" stroke="#111111" stroke-width="1.5"/>
<line x1="900.19" y1="404.25" x2="900.19" y2="398.35" stroke="#111111" stroke-width="1.5"/>
<line x1="900.19" y1="2.85" x2="900.19" y2="8.75" stroke="#111111" stroke-width="1.5"/>
<line x1="964.74" y1="404.25" x2="964.74" y2="400.85" stroke="#111111" stroke-width="1.5"/>
<line x1="964.74" y1="2.85" x2="964.74" y2="6.25" stroke="#111111" stroke-width="1.5"/>
<line x1="1002.50" y1="404.25" x2="1002.50" y2="400.85" stroke="#111111" stroke-width="1.5"/>
<line x1="1002.50" y1="2.85" x2="1002.50" y2="6.25" stroke="#111111" stroke-width="1.5"/>
<line x1="1029.30" y1="404.25" x2="1029.30" y2="400.85" stroke="#111111" stroke-width="1.5"/>
<line x1="1029.30" y1="2.85" x2="1029.30" y2="6.25" stroke="#111111" stroke-width="1.5"/>
<line x1="1050.08" y1="404.25" x2="1050.08" y2="400.85" stroke="#111111" stroke-width="1.5"/>
<line x1="1050.08" y1="2.85" x2="1050.08" y2="6.25" stroke="#111111" stroke-width="1.5"/>
<line x1="1067.06" y1="404.25" x2="1067.06" y2="400.85" stroke="#111111" stroke-width="1.5"/>
<line x1="1067.06" y1="2.85" x2="1067.06" y2="6.25" stroke="#111111" stroke-width="1.5"/>
<line x1="1081.41" y1="404.25" x2="1081.41" y2="400.85" stroke="#111111" stroke-width="1.5"/>
<line x1="1081.41" y1="2.85" x2="1081.41" y2="6.25" stroke="#111111" stroke-width="1.5"/>
<line x1="1093.85" y1="404.25" x2="1093.85" y2="400.85" stroke="#111111" stroke-width="1.5"/>
<line x1="1093.85" y1="2.85" x2="1093.85" y2="6.25" stroke="#111111" stroke-width="1.5"/>
<line x1="1104.82" y1="404.25" x2="1104.82" y2="400.85" stroke="#111111" stroke-width="1.5"/>
<line x1="1104.82" y1="2.85" x2="1104.82" y2="6.25" stroke="#111111" stroke-width="1.5"/>
<line x1="1114.63" y1="404.25" x2="1114.63" y2="398.35" stroke="#111111" stroke-width="1.5"/>
<line x1="1114.63" y1="2.85" x2="1114.63" y2="8.75" stroke="#111111" stroke-width="1.5"/>
<line x1="1179.18" y1="404.25" x2="1179.18" y2="400.85" stroke="#111111" stroke-width="1.5"/>
<line x1="1179.18" y1="2.85" x2="1179.18" y2="6.25" stroke="#111111" stroke-width="1.5"/>
<line x1="685.75" y1="392.02" x2="689.35" y2="392.02" stroke="#111111" stroke-width="1.5"/>
<line x1="1216.90" y1="392.02" x2="1213.30" y2="392.02" stroke="#111111" stroke-width="1.5"/>
<line x1="685.75" y1="382.00" x2="689.35" y2="382.00" stroke="#111111" stroke-width="1.5"/>
<line x1="1216.90" y1="382.00" x2="1213.30" y2="382.00" stroke="#111111" stroke-width="1.5"/>
<line x1="685.75" y1="373.54" x2="689.35" y2="373.54" stroke="#111111" stroke-width="1.5"/>
<line x1="1216.90" y1="373.54" x2="1213.30" y2="373.54" stroke="#111111" stroke-width="1.5"/>
<line x1="685.75" y1="366.20" x2="689.35" y2="366.20" stroke="#111111" stroke-width="1.5"/>
<line x1="1216.90" y1="366.20" x2="1213.30" y2="366.20" stroke="#111111" stroke-width="1.5"/>
<line x1="685.75" y1="359.74" x2="689.35" y2="359.74" stroke="#111111" stroke-width="1.5"/>
<line x1="1216.90" y1="359.74" x2="1213.30" y2="359.74" stroke="#111111" stroke-width="1.5"/>
<line x1="685.75" y1="353.95" x2="691.65" y2="353.95" stroke="#111111" stroke-width="1.5"/>
<line x1="1216.90" y1="353.95" x2="1211.00" y2="353.95" stroke="#111111" stroke-width="1.5"/>
<line x1="685.75" y1="315.88" x2="689.35" y2="315.88" stroke="#111111" stroke-width="1.5"/>
<line x1="1216.90" y1="315.88" x2="1213.30" y2="315.88" stroke="#111111" stroke-width="1.5"/>
<line x1="685.75" y1="293.62" x2="689.35" y2="293.62" stroke="#111111" stroke-width="1.5"/>
<line x1="1216.90" y1="293.62" x2="1213.30" y2="293.62" stroke="#111111" stroke-width="1.5"/>
<line x1="685.75" y1="277.82" x2="689.35" y2="277.82" stroke="#111111" stroke-width="1.5"/>
<line x1="1216.90" y1="277.82" x2="1213.30" y2="277.82" stroke="#111111" stroke-width="1.5"/>
<line x1="685.75" y1="265.57" x2="689.35" y2="265.57" stroke="#111111" stroke-width="1.5"/>
<line x1="1216.90" y1="265.57" x2="1213.30" y2="265.57" stroke="#111111" stroke-width="1.5"/>
<line x1="685.75" y1="255.55" x2="689.35" y2="255.55" stroke="#111111" stroke-width="1.5"/>
<line x1="1216.90" y1="255.55" x2="1213.30" y2="255.55" stroke="#111111" stroke-width="1.5"/>
<line x1="685.75" y1="247.09" x2="689.35" y2="247.09" stroke="#111111" stroke-width="1.5"/>
<line x1="1216.90" y1="247.09" x2="1213.30" y2="247.09" stroke="#111111" stroke-width="1.5"/>
<line x1="685.75" y1="239.75" x2="689.35" y2="239.75" stroke="#111111" stroke-width="1.5"/>
<line x1="1216.90" y1="239.75" x2="1213.30" y2="239.75" stroke="#111111" stroke-width="1.5"/>
<line x1="685.75" y1="233.29" x2="689.35" y2="233.29" stroke="#111111" stroke-width="1.5"/>
<line x1="1216.90" y1="233.29" x2="1213.30" y2="233.29" stroke="#111111" stroke-width="1.5"/>
<line x1="685.75" y1="227.50" x2="691.65" y2="227.50" stroke="#111111" stroke-width="1.5"/>
<line x1="1216.90" y1="227.50" x2="1211.00" y2="227.50" stroke="#111111" stroke-width="1.5"/>
<line x1="685.75" y1="189.43" x2="689.35" y2="189.43" stroke="#111111" stroke-width="1.5"/>
<line x1="1216.90" y1="189.43" x2="1213.30" y2="189.43" stroke="#111111" stroke-width="1.5"/>
<line x1="685.75" y1="167.17" x2="689.35" y2="167.17" stroke="#111111" stroke-width="1.5"/>
<line x1="1216.90" y1="167.17" x2="1213.30" y2="167.17" stroke="#111111" stroke-width="1.5"/>
<line x1="685.75" y1="151.37" x2="689.35" y2="151.37" stroke="#111111" stroke-width="1.5"/>
<line x1="1216.90" y1="151.37" x2="1213.30" y2="151.37" stroke="#111111" stroke-width="1.5"/>
<line x1="685.75" y1="139.12" x2="689.35" y2="139.12" stroke="#111111" stroke-width="1.5"/>
<line x1="1216.90" y1="139.12" x2="1213.30" y2="139.12" stroke="#111111" stroke-width="1.5"/>
<line x1="685.75" y1="129.10" x2="689.35" y2="129.10" stroke="#111111" stroke-width="1.5"/>
<line x1="1216.90" y1="129.10" x2="1213.30" y2="129.10" stroke="#111111" stroke-width="1.5"/>
<line x1="685.75" y1="120.64" x2="689.35" y2="120.64" stroke="#111111" stroke-width="1.5"/>
<line x1="1216.90" y1="120.64" x2="1213.30" y2="120.64" stroke="#111111" stroke-width="1.5"/>
<line x1="685.75" y1="113.30" x2="689.35" y2="113.30" stroke="#111111" stroke-width="1.5"/>
<line x1="1216.90" y1="113.30" x2="1213.30" y2="113.30" stroke="#111111" stroke-width="1.5"/>
<line x1="685.75" y1="106.84" x2="689.35" y2="106.84" stroke="#111111" stroke-width="1.5"/>
<line x1="1216.90" y1="106.84" x2="1213.30" y2="106.84" stroke="#111111" stroke-width="1.5"/>
<line x1="685.75" y1="101.05" x2="691.65" y2="101.05" stroke="#111111" stroke-width="1.5"/>
<line x1="1216.90" y1="101.05" x2="1211.00" y2="101.05" stroke="#111111" stroke-width="1.5"/>
<line x1="685.75" y1="62.98" x2="689.35" y2="62.98" stroke="#111111" stroke-width="1.5"/>
<line x1="1216.90" y1="62.98" x2="1213.30" y2="62.98" stroke="#111111" stroke-width="1.5"/>
<line x1="685.75" y1="40.72" x2="689.35" y2="40.72" stroke="#111111" stroke-width="1.5"/>
<line x1="1216.90" y1="40.72" x2="1213.30" y2="40.72" stroke="#111111" stroke-width="1.5"/>
<line x1="685.75" y1="24.92" x2="689.35" y2="24.92" stroke="#111111" stroke-width="1.5"/>
<line x1="1216.90" y1="24.92" x2="1213.30" y2="24.92" stroke="#111111" stroke-width="1.5"/>
<line x1="685.75" y1="12.67" x2="689.35" y2="12.67" stroke="#111111" stroke-width="1.5"/>
<line x1="1216.90" y1="12.67" x2="1213.30" y2="12.67" stroke="#111111" stroke-width="1.5"/>
<text font-family="Liberation Sans, sans-serif" font-size="15.6" fill="#262626"><tspan x="673.41" y="431.78" font-family="IPAGothic, Liberation Sans, sans-serif">1</tspan><tspan x="682.28" y="431.00">0</tspan><tspan x="690.96" y="423.40" font-size="13.0">0</tspan></text>
<text font-family="Liberation Sans, sans-serif" font-size="15.6" fill="#262626"><tspan x="887.85" y="431.78" font-family="IPAGothic, Liberation Sans, sans-serif">1</tspan><tspan x="896.72" y="431.00">0</tspan><tspan x="905.40" y="424.06" font-size="13.0" font-family="IPAGothic, Liberation Sans, sans-serif">1</tspan></text>
<text font-family="Liberation Sans, sans-serif" font-size="15.6" fill="#262626"><tspan x="1102.29" y="431.78" font-family="IPAGothic, Liberation Sans, sans-serif">1</tspan><tspan x="1111.16" y="431.00">0</tspan><tspan x="1119.84" y="423.40" font-size="13.0">2</tspan></text>
<text font-family="Liberation Sans, sans-serif" font-size="15.6" fill="#262626"><tspan x="654.41" y="110.83" font-family="IPAGothic, Liberation Sans, sans-serif">1</tspan><tspan x="663.58" y="110.05">0</tspan><tspan x="672.26" y="102.91" font-size="13.0" font-family="IPAGothic, Liberation Sans, sans-serif">1</tspan></text>
<text font-family="Liberation Sans, sans-serif" font-size="15.6" fill="#262626"><tspan x="654.41" y="237.28" font-family="IPAGothic, Liberation Sans, sans-serif">1</tspan><tspan x="663.58" y="236.50">0</tspan><tspan x="672.26" y="228.70" font-size="13.0">0</tspan></text>
<text font-family="Liberation Sans, sans-serif" font-size="15.6" fill="#262626"><tspan x="650.91" y="363.73" font-family="IPAGothic, Liberation Sans, sans-serif">1</tspan><tspan x="660.08" y="362.95">0</tspan><tspan x="668.76" y="355.15" font-size="13.0">-</tspan><tspan x="673.09" y="355.81" font-size="13.0" font-family="IPAGothic, Liberation Sans, sans-serif">1</tspan></text>
<line x1="1050.85" y1="26.10" x2="1096.65" y2="26.10" stroke="#000" stroke-width="1.8"/>
<line x1="1062.45" y1="44.70" x2="1085.65" y2="44.70" stroke="#E7C26C" stroke-width="1.6"/>
<line x1="1074.05" y1="38.30" x2="1074.05" y2="51.10" stroke="#E7C26C" stroke-width="1.6"/>
<text x="1101.05" y="50.60" font-family="Liberation Sans, sans-serif" font-size="13.8" fill="#000">HXMT/HE</text>
<line x1="1062.45" y1="63.40" x2="1085.65" y2="63.40" stroke="#F29659" stroke-width="1.6"/>
<line x1="1074.05" y1="57.00" x2="1074.05" y2="69.80" stroke="#F29659" stroke-width="1.6"/>
<text x="1101.05" y="69.30" font-family="Liberation Sans, sans-serif" font-size="13.8" fill="#000">HXMT/ME</text>
<line x1="1062.45" y1="82.10" x2="1085.65" y2="82.10" stroke="#979797" stroke-width="1.6"/>
<line x1="1074.05" y1="75.70" x2="1074.05" y2="88.50" stroke="#979797" stroke-width="1.6"/>
<text x="1101.05" y="88.00" font-family="Liberation Sans, sans-serif" font-size="13.8" fill="#000">HXMT/LE</text>
<text x="1101.05" y="32.3" font-family="Liberation Sans, sans-serif" font-size="13.8" fill="#000">FRB - Wind ICS</text>
<text x="951.33" y="453.1" text-anchor="middle" font-family="Liberation Sans, sans-serif" font-size="17" fill="#262626">Energy (keV)</text>
<text transform="translate(641.65,374.27) rotate(-90)" font-family="Liberation Sans, sans-serif" font-size="17.05" fill="#262626">Specific photon flux (photons cm<tspan dy="-8.3" font-size="13.5">-2</tspan><tspan dy="8.3"> s</tspan><tspan dy="-8.3" font-size="13.5">-1</tspan><tspan dy="8.3"> keV</tspan><tspan dy="-8.3" font-size="13.5">-1</tspan><tspan dy="8.3"> </tspan><tspan dx="1.6">)</tspan></text>
<text transform="translate(132.46,338.80) scale(1.222,1)" font-family="Liberation Serif, serif" font-size="19.24" fill="#000">Δ</text>
<text x="148.7" y="338.9" font-family="Liberation Sans, sans-serif" font-size="18.5" fill="#000">t = 3.4 ms</text>
<text x="124.9" y="366.7" font-family="Liberation Sans, sans-serif" font-size="17.0" fill="#000">(</text>
<text transform="translate(130.52,366.60) scale(1.158,1)" font-family="Liberation Serif, serif" font-size="18.94" fill="#000">Δ</text>
<text x="145.0" y="366.7" font-family="Liberation Sans, sans-serif" font-size="17.0" fill="#000">t = -25.5 ms)</text>
<text transform="translate(750.25,338.80) scale(1.202,1)" font-family="Liberation Serif, serif" font-size="19.70" fill="#000">Δ</text>
<text x="771.1" y="338.9" font-family="Liberation Sans, sans-serif" font-size="18.5" fill="#000">t = 6.7 ms</text>
<text x="278.4" y="486.0" font-family="Liberation Serif, serif" font-size="22.5" fill="#000">(</text>
<text transform="translate(290.9,486.0) scale(1.21,1)" text-anchor="middle" font-family="Liberation Serif, serif" font-size="20.25" fill="#000">a</text>
<text x="296.6" y="486.0" font-family="Liberation Serif, serif" font-size="22.5" fill="#000">)</text>
<text x="903.4" y="486.0" font-family="Liberation Serif, serif" font-size="22.5" fill="#000">(</text>
<text transform="translate(917.67,486.0) scale(1.12,1)" text-anchor="middle" font-family="Liberation Serif, serif" font-size="19.9" fill="#000">b</text>
<text x="923.6" y="486.0" font-family="Liberation Serif, serif" font-size="22.5" fill="#000">)</text>
</svg></body></html>
